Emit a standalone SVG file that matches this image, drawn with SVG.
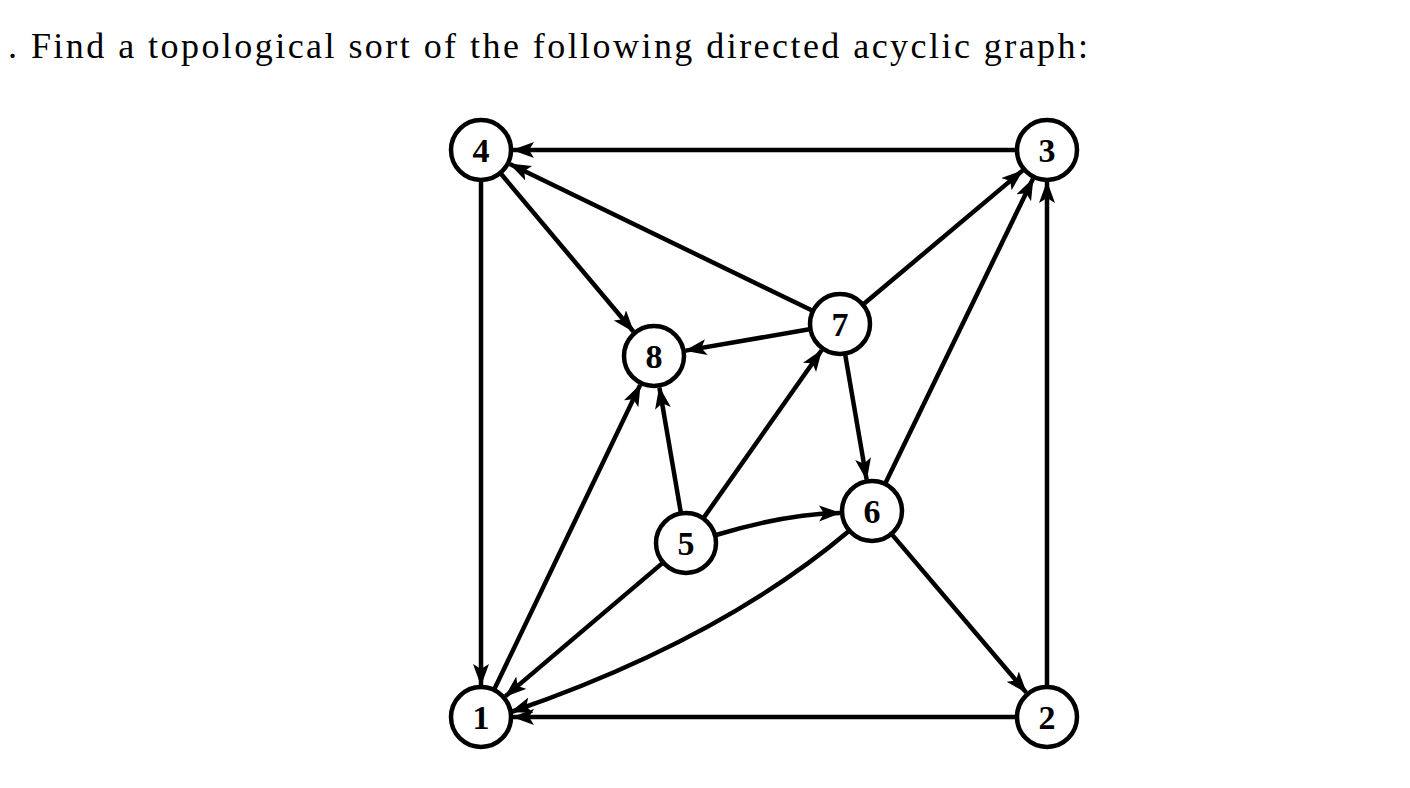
<svg xmlns="http://www.w3.org/2000/svg" width="1410" height="788" viewBox="0 0 1410 788">
<style>
.e{fill:none;stroke:#000;stroke-width:4.5;marker-end:url(#a)}
.n circle{fill:#fff;stroke:#000;stroke-width:4.5}
.n text{font-family:"Liberation Serif",serif;font-weight:bold;font-size:34px;text-anchor:middle}
</style>
<defs><marker id="a" markerUnits="userSpaceOnUse" markerWidth="24" markerHeight="18" refX="21" refY="8" orient="auto"><path d="M0,0 L22,8 L0,16 L5,8 z" fill="#000"/></marker></defs>
<rect width="1410" height="788" fill="#fff"/>
<text x="8" y="58" font-family="Liberation Serif,serif" font-size="36" textLength="1080">. Find a topological sort of the following directed acyclic graph:</text>
<g id="edges">
<path class="e" d="M1016,150 L513,150"/>
<path class="e" d="M812.1,310.5 L509.8,164"/>
<path class="e" d="M500.9,173.7 L633.4,331.5"/>
<path class="e" d="M481,181 L481,685"/>
<path class="e" d="M863.7,304 L1022.5,170.6"/>
<path class="e" d="M885.5,483.1 L1033,178.8"/>
<path class="e" d="M1047,686 L1047,182"/>
<path class="e" d="M809.4,329.3 L685.6,350.6"/>
<path class="e" d="M845.2,354.6 L866.6,479.4"/>
<path class="e" d="M680.8,512.4 L659.4,387.6"/>
<path class="e" d="M703.8,517.6 L821.6,350.2"/>
<path class="e" d="M716,535 Q785,514 840,513"/>
<path class="e" d="M662.4,563.1 L505.4,696.3"/>
<path class="e" d="M849,531 Q720,640 511,712"/>
<path class="e" d="M494.4,689 L640.2,384.9"/>
<path class="e" d="M892.1,534.6 L1026.3,692.6"/>
<path class="e" d="M1016,717 L513,717"/>
</g>
<g id="n4" class="n"><circle cx="481" cy="150" r="30"/><text x="481" y="162">4</text></g>
<g id="n3" class="n"><circle cx="1047" cy="150" r="30"/><text x="1047" y="162">3</text></g>
<g id="n1" class="n"><circle cx="481" cy="717" r="30"/><text x="481" y="729">1</text></g>
<g id="n2" class="n"><circle cx="1047" cy="717" r="30"/><text x="1047" y="729">2</text></g>
<g id="n7" class="n"><circle cx="840" cy="324" r="30"/><text x="840" y="336">7</text></g>
<g id="n8" class="n"><circle cx="654" cy="356" r="30"/><text x="654" y="368">8</text></g>
<g id="n5" class="n"><circle cx="686" cy="543" r="30"/><text x="686" y="555">5</text></g>
<g id="n6" class="n"><circle cx="872" cy="511" r="30"/><text x="872" y="523">6</text></g>
</svg>
